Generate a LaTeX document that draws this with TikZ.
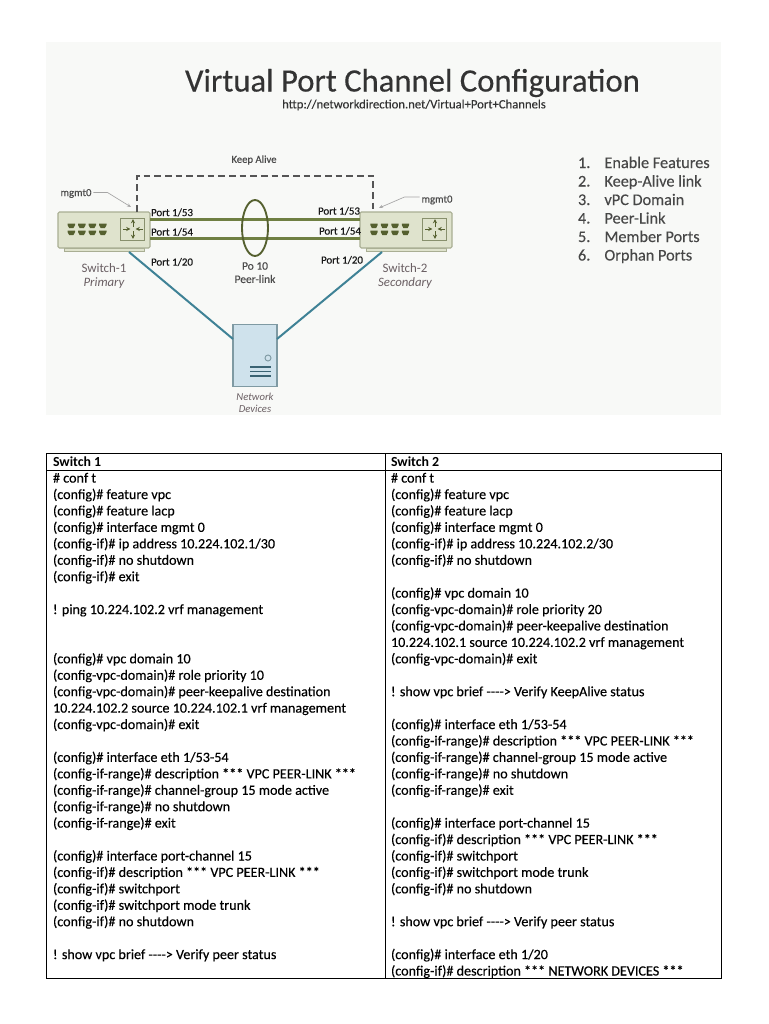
\documentclass[tikz,border=0pt]{standalone}
\usepackage{fontspec}
\setmainfont{Carlito}
\usetikzlibrary{arrows.meta,shapes.geometric}
\newfontfamily\heavyfont[FakeBold=0.35]{Carlito}
\newfontfamily\semifont[FakeBold=0.2]{Carlito}
\definecolor{panel}{HTML}{F8F9F7}
\definecolor{swfill}{HTML}{DFE3CD}
\definecolor{swedge}{HTML}{A9AE93}
\definecolor{olive}{HTML}{6F7F42}
\definecolor{darkolive}{HTML}{55602F}
\definecolor{teal2}{HTML}{3F8296}
\definecolor{srvfill}{HTML}{CFE2EC}
\definecolor{srvedge}{HTML}{7F9AA3}
\definecolor{srvline}{HTML}{3A6373}
\definecolor{labelgrey}{HTML}{6A5F63}
\definecolor{dashgrey}{HTML}{555555}
\tikzset{
  x=0.75pt,y=-0.75pt,
  every node/.style={inner sep=0pt,outer sep=0pt},
  switchbox/.style={draw=swedge,fill=swfill,line width=0.8pt,rounded corners=1pt,minimum width=69pt,minimum height=27pt},
  switchbase/.style={draw=swedge,fill=swfill,line width=0.6pt,minimum width=60pt,minimum height=2.4pt},
  routerbox/.style={draw=darkolive!70,fill=swfill,line width=0.7pt,minimum width=18.5pt,minimum height=16.5pt},
  peerlink/.style={draw=olive,line width=2.2pt},
  memberlink/.style={draw=teal2,line width=1.5pt},
  keepalive/.style={draw=dashgrey,line width=1.3pt,dash pattern=on 5pt off 3pt},
  callout/.style={draw=gray!70,line width=0.5pt,-{Stealth[length=3pt,width=2.5pt]}},
  routerarrow/.style={draw=darkolive,line width=0.6pt,-{Stealth[length=3.2pt,width=3pt]}},
  portlabel/.style={font=\heavyfont\fontsize{8.2}{10}\selectfont,text=black!90},
  difflabel/.style={font=\semifont\fontsize{8}{10}\selectfont,text=black!70},
  peerlabel/.style={font=\semifont\fontsize{8.6}{10}\selectfont,text=black!70},
  swlabel/.style={font=\fontsize{9.7}{11}\selectfont,text=labelgrey},
  swlabelit/.style={font=\fontsize{9.6}{11}\selectfont\itshape,text=labelgrey},
  devlabel/.style={font=\fontsize{8}{10}\selectfont\itshape,text=labelgrey},
  listitem/.style={font=\semifont\fontsize{12.2}{13}\selectfont,text=black!72,anchor=base west},
  celltext/.style={font=\semifont\fontsize{10.6}{12}\selectfont,text=black,anchor=base west},
  headtext/.style={font=\fontsize{10.4}{12}\selectfont\bfseries,text=black,anchor=base west},
  tablerule/.style={draw=black,line width=0.7pt},
}
\newcommand{\LT}[2]{\node[celltext] (l#1) at (53,{482.6+16.43*#1}) {#2};}
\newcommand{\RT}[2]{\node[celltext] (r#1) at (391,{482.6+16.43*#1}) {#2};}
\newcommand{\PortIcons}[2]{%
  \foreach \i in {0,1,2,3}{\foreach \j in {0,1}{%
    \fill[darkolive] ({#1+\i*10.5-3.7},{#2+\j*7-1.5}) -- ++(7.4,0) -- ++(0,1.6) -- ++(-1.6,3) -- ++(-4.2,0) -- ++(-1.6,-3) -- cycle;
  }}}
\newcommand{\RouterArrows}[2]{%
  \draw[routerarrow] (#1,#2-2) -- (#1,#2-10);
  \draw[routerarrow] (#1,#2+2) -- (#1,#2+10);
  \draw[routerarrow] (#1-10,#2) -- (#1-2.5,#2);
  \draw[routerarrow] (#1+10,#2) -- (#1+2.5,#2);
}
\begin{document}
\begin{tikzpicture}
\useasboundingbox[fill=white] (0,0) rectangle (768,1024);
\fill[panel] (46,42) rectangle (721,415);
% title
\node[font=\heavyfont\fontsize{24.5}{28}\selectfont,text=black!80] (title) at (412.5,83) {Virtual Port Channel Configuration};
\node[font=\semifont\fontsize{9.5}{10}\selectfont,text=black!80] (url) at (414,105) {http://networkdirection.net/Virtual+Port+Channels};
% list
\node[listitem] (i1) at (578,168) {1.\hspace{10.6pt}Enable Features};
\node[listitem] (i2) at (578,186.5) {2.\hspace{10.6pt}Keep-Alive link};
\node[listitem] (i3) at (578,205) {3.\hspace{10.6pt}vPC Domain};
\node[listitem] (i4) at (578,223.5) {4.\hspace{10.6pt}Peer-Link};
\node[listitem] (i5) at (578,242) {5.\hspace{10.6pt}Member Ports};
\node[listitem] (i6) at (578,260.5) {6.\hspace{10.6pt}Orphan Ports};
% switches
\node[switchbase] (base1) at (104.5,249.5) {};
\node[switchbase] (base2) at (406,249.5) {};
\node[switchbox] (sw1) at (104,230) {};
\node[switchbox] (sw2) at (406,230) {};
\node[routerbox] (rt1) at (132.5,229) {};
\node[routerbox] (rt2) at (434.5,229) {};
\PortIcons{71.3}{225}
\PortIcons{374}{225}
\RouterArrows{133}{229}
\RouterArrows{435}{229}
% server
\node[draw=srvedge,fill=srvfill,line width=0.8pt,minimum width=33pt,minimum height=47pt] (srv) at (255,355.5) {};
\node[draw=srvedge,fill=srvfill,line width=0.7pt,circle,minimum size=4.5pt] (led) at (268,358) {};
\foreach \yy in {367,371.5,376}{\draw[srvline,line width=1.1pt] (250,\yy) -- (271,\yy);}
% links
\coordinate (a1) at (150,219.5); \coordinate (b1) at (360,219.5);
\coordinate (a2) at (150,238.5); \coordinate (b2) at (360,238.5);
\draw[peerlink] (sw1.east |- a1) -- (sw2.west |- b1);
\draw[peerlink] (sw1.east |- a2) -- (sw2.west |- b2);
\node[draw=darkolive,line width=1.4pt,ellipse,minimum width=19.5pt,minimum height=42pt] (po) at (255,228) {};
\coordinate (m1) at (129,252); \coordinate (m2) at (382,252);
\coordinate (s1) at (233,339); \coordinate (s2) at (277,339);
\draw[memberlink] (m1) -- (s1);
\draw[memberlink] (m2) -- (s2);
% keep alive
\coordinate (k1) at (137,212); \coordinate (k2) at (373,212);
\coordinate (k1t) at (137,176); \coordinate (k2t) at (373,176);
\draw[keepalive] (k1) -- (k1t) -- (k2t) -- (k2);
\node[difflabel] (ka) at (254,160) {Keep Alive};
% mgmt callouts
\node[difflabel] (mg1) at (76,193.5) {mgmt0};
\node[difflabel] (mg2) at (437,200) {mgmt0};
\coordinate (c1) at (131,207); \coordinate (c2) at (379,208);
\draw[callout] (mg1.east) ++(2,-1) -- ++(14,0) -- (c1);
\draw[callout] (mg2.west) ++(-2,-3) -- ++(-15,0) -- (c2);
% port labels
\node[portlabel,anchor=west] (p1) at (151,212.5) {Port 1/53};
\node[portlabel,anchor=west] (p2) at (151,232) {Port 1/54};
\node[portlabel,anchor=west] (p3) at (151,262) {Port 1/20};
\node[portlabel,anchor=west] (p4) at (318,211) {Port 1/53};
\node[portlabel,anchor=west] (p5) at (319,231) {Port 1/54};
\node[portlabel,anchor=west] (p6) at (321,260) {Port 1/20};
% labels
\node[swlabel] (n1) at (104,268) {Switch-1};
\node[swlabelit] (n1b) at (104,283) {Primary};
\node[swlabel] (n2) at (405,268) {Switch-2};
\node[swlabelit] (n2b) at (405,283) {Secondary};
\node[peerlabel] (n3) at (255,266) {Po 10};
\node[peerlabel] (n4) at (255,279) {Peer-link};
\node[devlabel] (n5) at (255,396.5) {Network};
\node[devlabel] (n6) at (255,409) {Devices};
% table
\draw[tablerule] (46,453) rectangle (721,978);
\draw[tablerule] (46,470) -- (721,470);
\draw[tablerule] (385,453) -- (385,978);
\node[headtext] (hl) at (53,466) {Switch 1};
\node[headtext] (hr) at (391,466) {Switch 2};
\LT{0}{\# conf t}
\LT{1}{(config)\# feature vpc}
\LT{2}{(config)\# feature lacp}
\LT{3}{(config)\# interface mgmt 0}
\LT{4}{(config-if)\# ip address 10.224.102.1/30}
\LT{5}{(config-if)\# no shutdown}
\LT{6}{(config-if)\# exit}
\LT{8}{! ping 10.224.102.2 vrf management}
\LT{11}{(config)\# vpc domain 10}
\LT{12}{(config-vpc-domain)\# role priority 10}
\LT{13}{(config-vpc-domain)\# peer-keepalive destination}
\LT{14}{10.224.102.2 source 10.224.102.1 vrf management}
\LT{15}{(config-vpc-domain)\# exit}
\LT{17}{(config)\# interface eth 1/53-54}
\LT{18}{(config-if-range)\# description *** VPC PEER-LINK ***}
\LT{19}{(config-if-range)\# channel-group 15 mode active}
\LT{20}{(config-if-range)\# no shutdown}
\LT{21}{(config-if-range)\# exit}
\LT{23}{(config)\# interface port-channel 15}
\LT{24}{(config-if)\# description *** VPC PEER-LINK ***}
\LT{25}{(config-if)\# switchport}
\LT{26}{(config-if)\# switchport mode trunk}
\LT{27}{(config-if)\# no shutdown}
\LT{29}{! show vpc brief -{}-{}-{}-> Verify peer status}
\RT{0}{\# conf t}
\RT{1}{(config)\# feature vpc}
\RT{2}{(config)\# feature lacp}
\RT{3}{(config)\# interface mgmt 0}
\RT{4}{(config-if)\# ip address 10.224.102.2/30}
\RT{5}{(config-if)\# no shutdown}
\RT{7}{(config)\# vpc domain 10}
\RT{8}{(config-vpc-domain)\# role priority 20}
\RT{9}{(config-vpc-domain)\# peer-keepalive destination}
\RT{10}{10.224.102.1 source 10.224.102.2 vrf management}
\RT{11}{(config-vpc-domain)\# exit}
\RT{13}{! show vpc brief -{}-{}-{}-> Verify KeepAlive status}
\RT{15}{(config)\# interface eth 1/53-54}
\RT{16}{(config-if-range)\# description *** VPC PEER-LINK ***}
\RT{17}{(config-if-range)\# channel-group 15 mode active}
\RT{18}{(config-if-range)\# no shutdown}
\RT{19}{(config-if-range)\# exit}
\RT{21}{(config)\# interface port-channel 15}
\RT{22}{(config-if)\# description *** VPC PEER-LINK ***}
\RT{23}{(config-if)\# switchport}
\RT{24}{(config-if)\# switchport mode trunk}
\RT{25}{(config-if)\# no shutdown}
\RT{27}{! show vpc brief -{}-{}-{}-> Verify peer status}
\RT{29}{(config)\# interface eth 1/20}
\RT{30}{(config-if)\# description *** NETWORK DEVICES ***}
\end{tikzpicture}
\end{document}
